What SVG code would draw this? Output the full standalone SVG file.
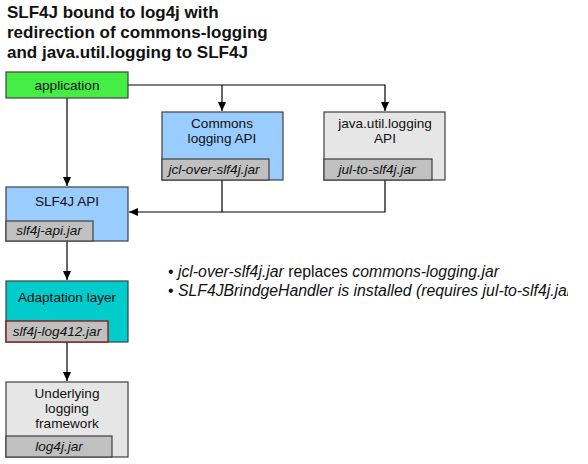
<svg xmlns="http://www.w3.org/2000/svg" width="588" height="464" viewBox="0 0 588 464">
<style>
text{font-family:"Liberation Sans",Arial,sans-serif;fill:#111}
.t{font-size:17px;font-weight:bold}
.l{font-size:13.6px;text-anchor:middle}
.j{font-size:13.6px;font-style:italic;text-anchor:middle}
.b{font-size:15.8px}
.box{stroke:#404040;stroke-width:1.2}
.sub{fill:#c0c0c0;stroke:#404040;stroke-width:1.2}
.c{fill:none;stroke:#000;stroke-width:1.2}
</style>
<defs>
<marker id="ah" markerWidth="10" markerHeight="10" refX="9" refY="4" orient="auto" markerUnits="userSpaceOnUse">
<path d="M0,0 L9,4 L0,8 Z" fill="#000"/>
</marker>
<clipPath id="nclip"><rect x="160" y="255" width="408" height="50"/></clipPath>
</defs>
<rect width="588" height="464" fill="#fff"/>
<g id="title">
<text class="t" x="7" y="18">SLF4J bound to log4j with</text>
<text class="t" x="7" y="38">redirection of commons-logging</text>
<text class="t" x="7" y="58">and java.util.logging to SLF4J</text>
</g>
<g id="connectors">
<path class="c" d="M128,85 H385 V111" marker-end="url(#ah)"/>
<path class="c" d="M222,85 V111" marker-end="url(#ah)"/>
<path class="c" d="M67,98 V186" marker-end="url(#ah)"/>
<path class="c" d="M222,180 V212"/>
<path class="c" d="M385,180 V212 H129" marker-end="url(#ah)"/>
<path class="c" d="M67,241 V280" marker-end="url(#ah)"/>
<path class="c" d="M67,342 V381" marker-end="url(#ah)"/>
</g>
<g id="application">
<rect class="box" x="6" y="72" width="122" height="26" fill="#44ee44"/>
<text class="l" x="67" y="90">application</text>
</g>
<g id="commons">
<rect class="box" x="162" y="112" width="121" height="68" fill="#99ccff"/>
<text class="l" x="222" y="128">Commons</text>
<text class="l" x="222" y="143">logging API</text>
<rect class="sub" x="162" y="159" width="107" height="21"/>
<text class="j" x="214" y="174">jcl-over-slf4j.jar</text>
</g>
<g id="jul">
<rect class="box" x="324" y="112" width="121" height="68" fill="#e6e6e6"/>
<text class="l" x="385" y="128">java.util.logging</text>
<text class="l" x="385" y="143">API</text>
<rect class="sub" x="324" y="159" width="108" height="21"/>
<text class="j" x="377" y="174">jul-to-slf4j.jar</text>
</g>
<g id="slf4japi">
<rect class="box" x="6" y="187" width="122" height="54" fill="#99ccff"/>
<text class="l" x="67" y="206">SLF4J API</text>
<rect class="sub" x="6" y="221" width="87" height="20"/>
<text class="j" x="49" y="235">slf4j-api.jar</text>
</g>
<g id="adaptation">
<rect class="box" x="6" y="281" width="122" height="61" fill="#00cccc"/>
<text class="l" x="67" y="302">Adaptation layer</text>
<rect x="6" y="321" width="102" height="21" fill="#c0c0c0" stroke="#8b1a1a" stroke-width="1.4"/>
<text class="j" x="57" y="336">slf4j-log412.jar</text>
</g>
<g id="underlying">
<rect class="box" x="6" y="382" width="122" height="75" fill="#e6e6e6"/>
<text class="l" x="67" y="398">Underlying</text>
<text class="l" x="67" y="413">logging</text>
<text class="l" x="67" y="428">framework</text>
<rect class="sub" x="6" y="436" width="106" height="21"/>
<text class="j" x="59" y="451">log4j.jar</text>
</g>
<g id="notes" clip-path="url(#nclip)">
<text class="b" x="168" y="277">• <tspan font-style="italic">jcl-over-slf4j.jar</tspan> replaces <tspan font-style="italic">commons-logging.jar</tspan></text>
<text class="b" x="168" y="296">• <tspan font-style="italic">SLF4JBrindgeHandler is installed (requires jul-to-slf4j.jar)</tspan></text>
</g>
</svg>
